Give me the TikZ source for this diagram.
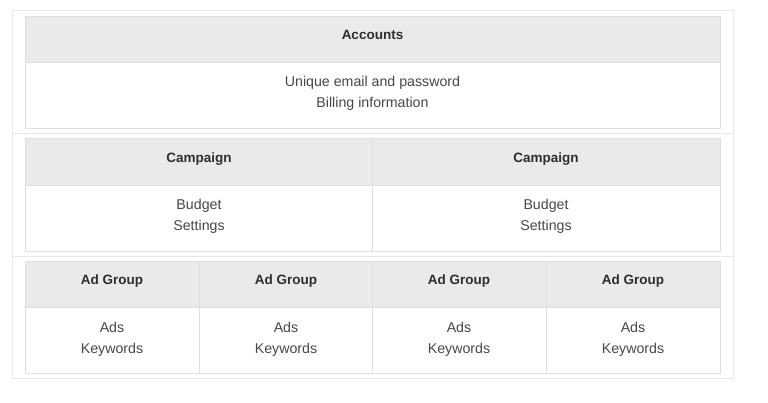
\documentclass[tikz,border=0pt]{standalone}
\usepackage{fontspec}
\setmainfont{Liberation Sans}
\usepackage{tikz}
\definecolor{headfill}{HTML}{E9EAEC}
\definecolor{cellline}{HTML}{DCE0E4}
\definecolor{frameline}{HTML}{E6E8EA}
\definecolor{headtext}{HTML}{2E2E2E}
\definecolor{bodytext}{HTML}{474747}

\begin{document}
\begin{tikzpicture}[
  x=1pt, y=-1pt,
  head/.style={
    draw=cellline, fill=headfill, line width=0.8pt
  },
  cell/.style={
    draw=cellline, fill=white, line width=0.8pt
  },
  htxt/.style={
    anchor=base, text=headtext,
    font=\bfseries\fontsize{13.5}{16}\selectfont
  },
  btxt/.style={
    anchor=base, text=bodytext, align=center,
    font=\fontsize{14.2}{21}\selectfont
  }
]
  \useasboundingbox (0,0) rectangle (768,402);
  % outer frame with row separators
  \draw[frameline, line width=0.8pt] (12.5,10.5) rectangle (733,378);
  \draw[frameline, line width=0.8pt] (12.5,133) -- (733,133);
  \draw[frameline, line width=0.8pt] (12.5,256) -- (733,256);
  % accounts
  \draw[head] (25,16) rectangle (720,62);
  \draw[cell] (25,62) rectangle (720,128);
  \node[htxt] (acc) at (372.5,39) {Accounts};
  \node[btxt] (accinfo) at (372.5,107.5) {Unique email and password\\Billing information};
  % campaigns
  \foreach \x/\n in {25/c1,372/c2} {
    \draw[head] (\x,138) rectangle ++(348,47);
    \draw[cell] (\x,185) rectangle ++(348,66);
    \node[htxt] (\n) at (\x+174,162) {Campaign};
    \node[btxt] (\n info) at (\x+174,230.5) {Budget\\Settings};
  }
  % ad groups
  \foreach \x/\n in {25/g1,199/g2,372/g3,546/g4} {
    \draw[head] (\x,261) rectangle ++(174,46);
    \draw[cell] (\x,307) rectangle ++(174,66);
    \node[htxt] (\n) at (\x+87,284.5) {Ad Group};
    \node[btxt] (\n info) at (\x+87,353) {Ads\\Keywords};
  }
\end{tikzpicture}
\end{document}
